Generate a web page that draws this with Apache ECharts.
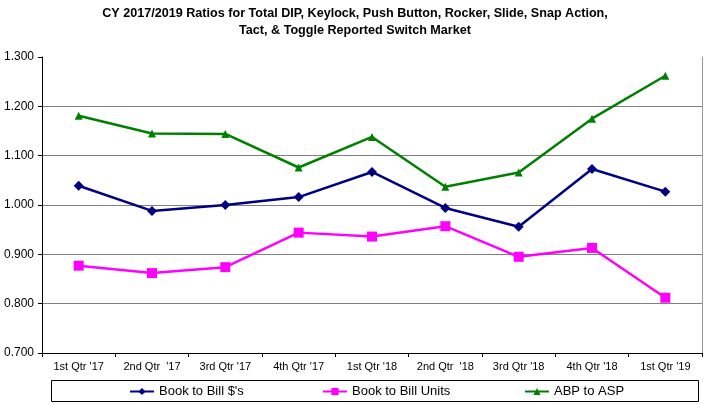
<!DOCTYPE html>
<html>
<head>
<meta charset="utf-8">
<script src="https://cdn.jsdelivr.net/npm/echarts@6/dist/echarts.min.js"></script>
<style>
    html, body { margin: 0; padding: 0; background: #fff; }
    #chart { width: 710px; height: 404px; }
</style>
</head>
<body>
<div id="chart"></div>
<script>
    // quarters on the x axis
    var quarters = ["1st Qtr '17", "2nd Qtr  '17", "3rd Qtr '17", "4th Qtr '17", "1st Qtr '18",
        "2nd Qtr  '18", "3rd Qtr '18", "4th Qtr '18", "1st Qtr '19"];
    var bookToBillDollars = [1.039, 0.988, 1.000, 1.016, 1.067, 0.994, 0.956, 1.073, 1.027];
    var bookToBillUnits = [0.877, 0.862, 0.874, 0.944, 0.936, 0.957, 0.895, 0.913, 0.812];
    var abpToAsp = [1.181, 1.145, 1.144, 1.076, 1.138, 1.037, 1.066, 1.175, 1.262];
    var seriesNames = ["Book to Bill $'s", "Book to Bill Units", "ABP to ASP"];

    var legendLefts = [129, 322, 524];
    var legendText = { fontSize: 13, color: '#000' };

    function oneLegend(i) {
        return {
            data: [seriesNames[i]],
            left: legendLefts[i],
            top: 385,
            padding: 0,
            itemWidth: 24,
            itemHeight: 9,
            textStyle: legendText
        };
    }

    var chart = echarts.init(document.getElementById('chart'));
    chart.setOption({
        animation: false,
        textStyle: { fontFamily: 'Arial, "Liberation Sans", sans-serif' },
        title: {
            text: 'CY 2017/2019 Ratios for Total DIP, Keylock, Push Button, Rocker, Slide, Snap Action,\nTact, & Toggle Reported Switch Market',
            left: 'center',
            top: 0,
            textStyle: { fontSize: 12.6, fontWeight: 'bold', color: '#000', lineHeight: 17 }
        },
        // box around the legend
        graphic: [{
            type: 'rect',
            shape: { x: 51.5, y: 380.5, width: 647, height: 21 },
            style: { fill: 'none', stroke: '#000', lineWidth: 1 },
            silent: true
        }],
        legend: [oneLegend(0), oneLegend(1), oneLegend(2)],
        grid: { left: 42, right: 8, top: 57, bottom: 51 },
        xAxis: {
            type: 'category',
            data: quarters,
            boundaryGap: true,
            axisLine: { lineStyle: { color: '#000' } },
            axisTick: { show: true, length: 4, lineStyle: { color: '#000' } },
            axisLabel: { fontSize: 11, color: '#000', margin: 8, interval: 0 }
        },
        yAxis: [{
            type: 'value',
            min: 0.7,
            max: 1.3,
            interval: 0.1,
            axisLine: { show: true, lineStyle: { color: '#000' } },
            axisTick: { show: true, length: 4, lineStyle: { color: '#000' } },
            axisLabel: { fontSize: 12, color: '#000', margin: 8, formatter: function (v) { return v.toFixed(3); } },
            splitLine: { showMaxLine: false, lineStyle: { color: '#808080', width: 1 } }
        }, {
            type: 'value',
            position: 'right',
            min: 0.7,
            max: 1.3,
            interval: 0.1,
            axisLine: { show: true, lineStyle: { color: '#999' } },
            axisTick: { show: false },
            axisLabel: { show: false },
            splitLine: { show: false }
        }],
        series: [{
            name: seriesNames[0],
            type: 'line',
            data: bookToBillDollars,
            color: '#000080',
            symbol: 'diamond',
            symbolSize: 10,
            lineStyle: { width: 2.5 }
        }, {
            name: seriesNames[1],
            type: 'line',
            data: bookToBillUnits,
            color: '#FF00FF',
            symbol: 'rect',
            symbolSize: 10,
            lineStyle: { width: 2.5 }
        }, {
            name: seriesNames[2],
            type: 'line',
            data: abpToAsp,
            color: '#008000',
            symbol: 'triangle',
            symbolSize: 8,
            lineStyle: { width: 2.5 }
        }]
    });
</script>
</body>
</html>
